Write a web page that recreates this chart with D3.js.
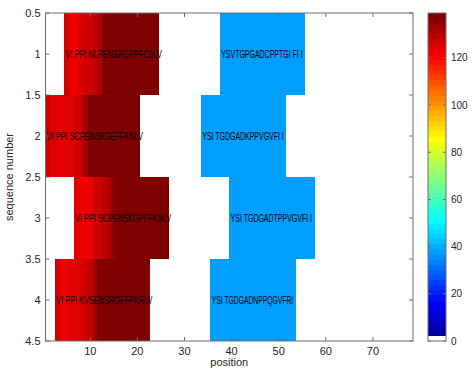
<!DOCTYPE html>
<html><head><meta charset="utf-8">
<script src="https://cdn.jsdelivr.net/npm/d3@7"></script>
<style>body{margin:0;background:#fff}svg{display:block}</style>
</head><body>
<script>
// ---- data ----
const seqNumbers = [1, 2, 3, 4];
const redStart = [5, 1, 7, 3];
const redValues = [
  [126, 122, 123, 124, 126, 128, 130, 132, 137, 139, 139, 139, 139, 139, 139, 139, 139, 139, 138, 138],
  [127, 124, 124, 124, 125, 125, 126, 128, 134, 137, 139, 139, 139, 139, 139, 139, 139, 139, 139, 138],
  [125, 122, 122, 123, 126, 128, 129, 131, 135, 138, 139, 139, 139, 139, 139, 139, 139, 139, 139, 138],
  [126, 122, 123, 124, 124, 125, 126, 129, 134, 138, 139, 139, 139, 139, 139, 139, 139, 139, 138, 138]
];
const redLabels = ["VI PPI NLPENSRGPPFCSLV", "VI PPI SCPENSKGEFFKNLV", "VI PPI SCPENSKGPFFKNLV", "VI PPI KVSENSRGFFPKRLV"];
const blueStart = [38, 34, 40, 36];
const blueValues = [
  [37, 37, 37, 37, 37, 37, 37, 37, 37, 37, 37, 37, 37, 37, 37, 37, 37, 37],
  [37, 37, 37, 37, 37, 37, 37, 37, 37, 37, 37, 37, 37, 37, 37, 37, 37, 37],
  [37, 37, 37, 37, 37, 37, 37, 37, 37, 37, 37, 37, 37, 37, 37, 37, 37, 37],
  [37, 37, 37, 37, 37, 37, 37, 37, 37, 37, 37, 37, 37, 37, 37, 37, 37, 37]
];
const blueLabels = ["YSVTGPGADCPPTGI FI I", "YSI TGDGADKPPVGVFI I", "YSI TGDGADTPPVGVFI I", "YSI TGDGADNPPQGVFRI"];
const xTicks = [10, 20, 30, 40, 50, 60, 70];
const yTicks = [0.5, 1, 1.5, 2, 2.5, 3, 3.5, 4, 4.5];
const yTickLabels = ["0.5", "1", "1.5", "2", "2.5", "3", "3.5", "4", "4.5"];
const cbTicks = [0, 20, 40, 60, 80, 100, 120];
const xDomain = [0.5, 78.5];
const cMin = 0, cMax = 139, nColors = 64;

// ---- MATLAB jet(64) with first entry white ----
function jet64(k) { // k 1..64
  const u = j => j <= 16 ? j / 16 : (j <= 31 ? 1 : (48 - j) / 16);
  let r = 0, g = 0, b = 0;
  if (k >= 25) r = u(k - 24);
  if (k >= 9 && k <= 55) g = u(k - 8);
  if (k <= 39) b = u(k + 8);
  return d3.rgb(Math.round(r * 255), Math.round(g * 255), Math.round(b * 255)).toString();
}
function colorOf(v) {
  let k = Math.floor((v - cMin) / (cMax - cMin) * nColors) + 1;
  k = Math.max(1, Math.min(nColors, k));
  return k === 1 ? "#ffffff" : jet64(k);
}

const W = 474, H = 379;
const svg = d3.select("body").append("svg").attr("width", W).attr("height", H)
  .style("font-family", "'Liberation Sans', Arial, sans-serif");

const x = d3.scaleLinear().domain(xDomain).range([45.5, 413]);
const y = d3.scaleLinear().domain([0.5, 4.5]).range([13, 341]);

// cells
const cells = [];
seqNumbers.forEach((s, i) => {
  redValues[i].forEach((v, j) => cells.push({row: s, col: redStart[i] + j, v}));
  blueValues[i].forEach((v, j) => cells.push({row: s, col: blueStart[i] + j, v}));
});
svg.append("g").attr("shape-rendering", "crispEdges").selectAll("rect").data(cells).join("rect")
  .attr("x", d => x(d.col - 0.5)).attr("width", d => x(d.col + 0.5) - x(d.col - 0.5) + 0.5)
  .attr("y", d => y(d.row - 0.5)).attr("height", d => y(d.row + 0.5) - y(d.row - 0.5))
  .attr("fill", d => colorOf(d.v));

// labels
const labels = [];
seqNumbers.forEach((s, i) => {
  labels.push({row: s, start: redStart[i], n: redValues[i].length, text: redLabels[i], k: 1.02});
  labels.push({row: s, start: blueStart[i], n: blueValues[i].length, text: blueLabels[i], k: 0.96});
});
svg.append("g").selectAll("text").data(labels).join("text")
  .attr("x", d => x(d.start) - 1).attr("y", d => y(d.row)).attr("dy", "0.35em")
  .attr("font-size", 10).attr("fill", "#000")
  .attr("textLength", d => (x(d.start + d.n) - x(d.start)) * d.k)
  .attr("lengthAdjust", "spacingAndGlyphs")
  .text(d => d.text);

// axes box
const axColor = "#6e6e6e", txtColor = "#262626";
svg.append("rect").attr("x", x(xDomain[0])).attr("y", y(0.5))
  .attr("width", x(xDomain[1]) - x(xDomain[0])).attr("height", y(4.5) - y(0.5))
  .attr("fill", "none").attr("stroke", axColor).attr("stroke-width", 1);

const tl = 4;
const gx = svg.append("g");
xTicks.forEach(t => {
  gx.append("line").attr("x1", x(t)).attr("x2", x(t)).attr("y1", y(4.5)).attr("y2", y(4.5) - tl).attr("stroke", axColor);
  gx.append("line").attr("x1", x(t)).attr("x2", x(t)).attr("y1", y(0.5)).attr("y2", y(0.5) + tl).attr("stroke", axColor);
  gx.append("text").attr("x", x(t)).attr("y", y(4.5) + 14).attr("text-anchor", "middle")
    .attr("font-size", 11).attr("fill", txtColor).text(t);
});
const gy = svg.append("g");
yTicks.forEach((t, i) => {
  gy.append("line").attr("x1", x(xDomain[0])).attr("x2", x(xDomain[0]) + tl).attr("y1", y(t)).attr("y2", y(t)).attr("stroke", axColor);
  gy.append("line").attr("x1", x(xDomain[1])).attr("x2", x(xDomain[1]) - tl).attr("y1", y(t)).attr("y2", y(t)).attr("stroke", axColor);
  gy.append("text").attr("x", x(xDomain[0]) - 5).attr("y", y(t)).attr("dy", "0.35em").attr("text-anchor", "end")
    .attr("font-size", 11).attr("fill", txtColor).text(yTickLabels[i]);
});
svg.append("text").attr("x", (x(xDomain[0]) + x(xDomain[1])) / 2).attr("y", 366).attr("text-anchor", "middle")
  .attr("font-size", 11).attr("fill", txtColor).text("position");
svg.append("text").attr("transform", `translate(13,${(y(0.5) + y(4.5)) / 2}) rotate(-90)`).attr("text-anchor", "middle")
  .attr("font-size", 11).attr("fill", txtColor).text("sequence number");

// colorbar
const cb = d3.scaleLinear().domain([cMin, cMax]).range([341, 13]);
const cbX = 428, cbW = 18;
const bins = d3.range(1, nColors + 1);
svg.append("g").attr("shape-rendering", "crispEdges").selectAll("rect").data(bins).join("rect")
  .attr("x", cbX).attr("width", cbW)
  .attr("y", k => cb(k * (cMax - cMin) / nColors))
  .attr("height", k => cb((k - 1) * (cMax - cMin) / nColors) - cb(k * (cMax - cMin) / nColors) + 0.5)
  .attr("fill", k => k === 1 ? "#ffffff" : jet64(k));
svg.append("rect").attr("x", cbX).attr("y", cb(cMax)).attr("width", cbW).attr("height", cb(cMin) - cb(cMax))
  .attr("fill", "none").attr("stroke", axColor);
cbTicks.forEach(t => {
  svg.append("line").attr("x1", cbX + cbW).attr("x2", cbX + cbW - 3).attr("y1", cb(t)).attr("y2", cb(t)).attr("stroke", axColor);
  svg.append("line").attr("x1", cbX).attr("x2", cbX + 3).attr("y1", cb(t)).attr("y2", cb(t)).attr("stroke", axColor);
  svg.append("text").attr("x", cbX + cbW + 5).attr("y", cb(t)).attr("dy", "0.35em")
    .attr("font-size", 10).attr("fill", txtColor).text(t);
});
</script>
</body></html>
